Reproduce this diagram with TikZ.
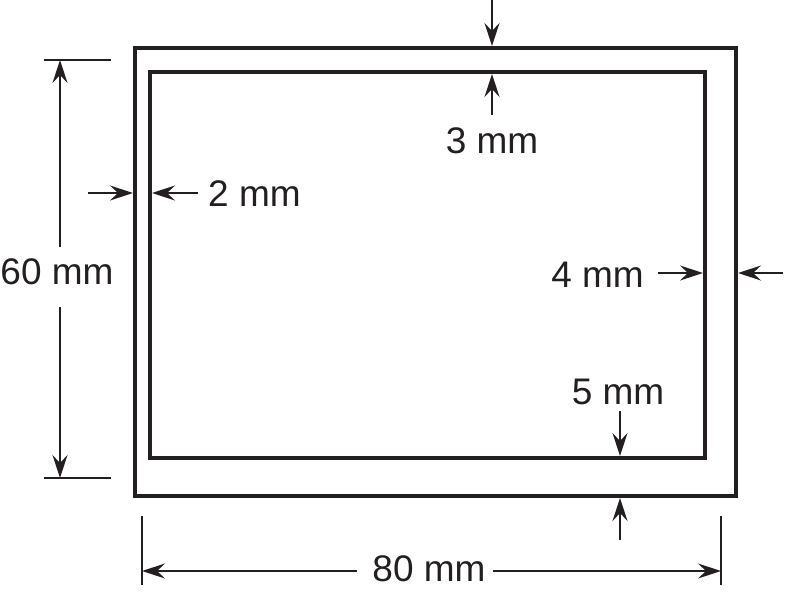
\documentclass[tikz,border=0pt]{standalone}
\usepackage{fontspec}
\setmainfont{Liberation Sans}
\usetikzlibrary{arrows.meta}
\usetikzlibrary{calc}
\definecolor{ink}{RGB}{35,31,32}
\tikzset{
	wall/.style={line width=3.8pt, ink},
	dimline/.style={line width=1.6pt, ink, -{Stealth[length=23pt,width=15pt,inset=8pt]}},
	extline/.style={line width=1.6pt, ink},
	dimlabel/.style={font=\fontsize{37}{42}\selectfont, text=ink, inner sep=0pt}
}
\newcommand{\gapmarks}[4] % from a, to a, from b, to b
{
	\draw[dimline] (#1) -- (#2);
	\draw[dimline] (#3) -- (#4);
}

\begin{document}
\begin{tikzpicture}[x=1pt, y=-1pt]
	\useasboundingbox (0,0) rectangle (805,605);
	% box, outer and inner walls
	\draw[wall] (135,48) rectangle (736,496);
	\draw[wall] (150,72) rectangle (705,458);
	
	% height 60 mm
	\draw[extline] (44,60) -- (111,60);
	\draw[extline] (44,478) -- (111,478);
	\node[dimlabel] (h60) at (57,272) {60 mm};
	\gapmarks{60,247}{60,60}{60,307}{60,478}
	
	% width 80 mm
	\draw[extline] (142,516) -- (142,585);
	\draw[extline] (721,516) -- (721,585);
	\node[dimlabel] (w80) at (429,569) {80 mm};
	\gapmarks{357,571}{142,571}{493,571}{721,571}
	
	% left wall 2 mm
	\node[dimlabel, anchor=west] (t2) at (208,194) {2 mm};
	\gapmarks{88,193}{133,193}{198,193}{152,193}
	
	% top wall 3 mm
	\node[dimlabel] (t3) at (492,141) {3 mm};
	\gapmarks{492,0}{492,46}{492,115}{492,74}
	
	% right wall 4 mm
	\node[dimlabel, anchor=east] (t4) at (644,275) {4 mm};
	\gapmarks{658,273}{703,273}{783,273}{738,273}
	
	% bottom wall 5 mm
	\node[dimlabel] (t5) at (618,392) {5 mm};
	\gapmarks{620,411}{620,456}{620,540}{620,498}
\end{tikzpicture}
\end{document}
